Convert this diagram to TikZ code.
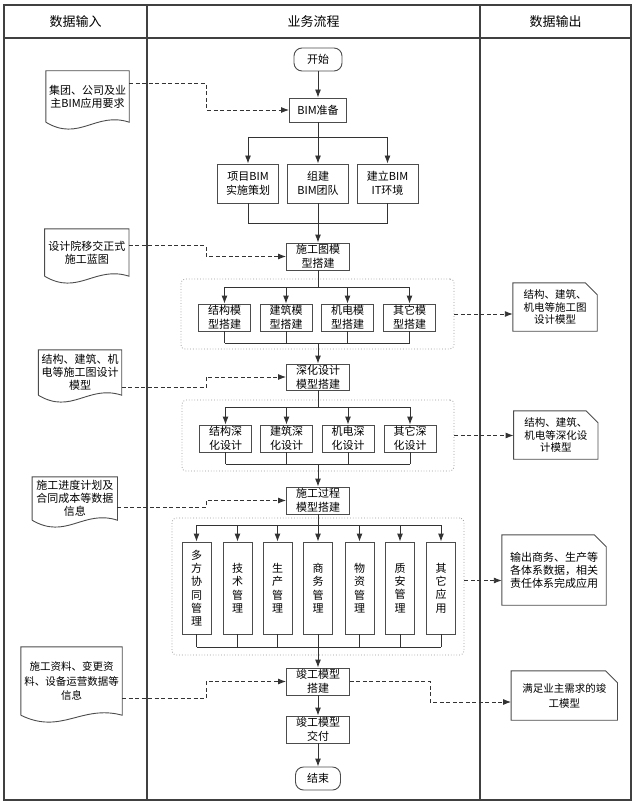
\documentclass[tikz,border=0pt]{standalone}
\usepackage{fontspec}
\setmainfont{Noto Sans CJK SC}
\usetikzlibrary{arrows.meta,calc,positioning}

\tikzset{
  frameline/.style={line width=1.6pt, draw=black!75},
  header/.style={font=\fontsize{13}{15}\selectfont},
  procbox/.style={draw=black!70, line width=0.9pt, fill=white, align=center, inner sep=0pt,
    minimum width=63pt, minimum height=27pt, font=\fontsize{11}{14}\selectfont},
  subbox/.style={procbox, minimum width=52pt},
  tallbox/.style={procbox, minimum width=29pt, minimum height=92pt, font=\fontsize{11}{13.3}\selectfont},
  termbox/.style={procbox, rounded corners=8pt, minimum width=48pt, minimum height=23pt},
  groupbox/.style={draw=black!40, dotted, line width=0.8pt, rounded corners=4pt, inner sep=0pt},
  docnode/.style={align=center, inner sep=0pt, font=\fontsize{11}{13}\selectfont},
  docline/.style={draw=black!70, line width=0.9pt},
  flow/.style={draw=black!80, line width=0.9pt},
  arrow/.style={flow, -{Latex[length=8pt,width=6pt]}},
  datalink/.style={arrow, dash pattern=on 4pt off 2.5pt}
}

% document with a wavy lower edge
\newcommand{\wavedoc}[1]{%
  \draw[docline] (#1.south west) -- (#1.north west) -- (#1.north east) -- (#1.south east)
    .. controls ($(#1.south east)!0.4!(#1.south west)+(0,-11)$) and ($(#1.south west)!0.4!(#1.south east)+(0,20)$) .. (#1.south west);}
% document with a cut corner
\newcommand{\folddoc}[1]{%
  \draw[docline] (#1.south west) -- (#1.north west) -- ($(#1.north east)+(-12,0)$)
    -- ($(#1.north east)+(0,12)$) -- (#1.south east) -- cycle;}

\begin{document}
\begin{tikzpicture}[x=1pt,y=-1pt]
    \useasboundingbox (0,0) rectangle (635,805);
    % frame and lanes
    \draw[frameline] (4,5) rectangle (631,800);
    \draw[frameline] (4,38) -- (631,38);
    \draw[frameline] (147,5) -- (147,800);
    \draw[frameline] (480,5) -- (480,800);
    \node[header] (h_in) at (75.5,21.5) {数据输入};
    \node[header] (h_flow) at (313.5,21.5) {业务流程};
    \node[header] (h_out) at (555.5,21.5) {数据输出};

    % dotted groups
    \node[groupbox, minimum width=273pt, minimum height=70pt] (g_1) at (317.5,314) {};
    \node[groupbox, minimum width=272pt, minimum height=71pt] (g_2) at (318,435.5) {};
    \node[groupbox, minimum width=292pt, minimum height=137pt] (g_3) at (318,586.5) {};

    % main flow
    \node[termbox] (st) at (318,59.5) {开始};
    \node[procbox, minimum width=57pt, minimum height=24pt] (bim) at (318,110) {BIM准备};
    \node[procbox, minimum width=61pt, minimum height=39pt] (p_1) at (248,183.5) {项目BIM\\实施策划};
    \node[procbox, minimum width=61pt, minimum height=39pt] (p_2) at (318,183.5) {组建\\BIM团队};
    \node[procbox, minimum width=61pt, minimum height=39pt] (p_3) at (387.5,183.5) {建立BIM\\IT环境};
    \node[procbox] (sgt) at (318,256.5) {施工图模\\型搭建};
    \node[subbox] (a_1) at (224.5,317.5) {结构模\\型搭建};
    \node[subbox] (a_2) at (286,317.5) {建筑模\\型搭建};
    \node[subbox] (a_3) at (347.5,317.5) {机电模\\型搭建};
    \node[subbox] (a_4) at (409.5,317.5) {其它模\\型搭建};
    \node[procbox, minimum height=26pt] (shx) at (318,377) {深化设计\\模型搭建};
    \node[subbox] (c_1) at (225.5,438.5) {结构深\\化设计};
    \node[subbox] (c_2) at (286.5,438.5) {建筑深\\化设计};
    \node[subbox] (c_3) at (348,438.5) {机电深\\化设计};
    \node[subbox] (c_4) at (410,438.5) {其它深\\化设计};
    \node[procbox] (sgc) at (318,500.5) {施工过程\\模型搭建};
    \node[tallbox] (t_1) at (196.5,588) {多\\方\\协\\同\\管\\理};
    \node[tallbox] (t_2) at (237.5,588) {技\\术\\管\\理};
    \node[tallbox] (t_3) at (277.5,588) {生\\产\\管\\理};
    \node[tallbox] (t_4) at (318,588) {商\\务\\管\\理};
    \node[tallbox] (t_5) at (359.5,588) {物\\资\\管\\理};
    \node[tallbox] (t_6) at (400,588) {质\\安\\管\\理};
    \node[tallbox] (t_7) at (441,588) {其\\它\\应\\用};
    \node[procbox] (jg) at (318,681.5) {竣工模型\\搭建};
    \node[procbox] (jf) at (318,729.5) {竣工模型\\交付};
    \node[termbox, minimum width=45pt] (fin) at (318,778.5) {结束};

    % input documents
    \node[docnode, minimum width=83pt, minimum height=51pt] (d_1) at (87.5,96.5) {集团、公司及业\\主BIM应用要求};
    \node[docnode, minimum width=84pt, minimum height=47pt] (d_2) at (86.75,252.5) {设计院移交正式\\施工蓝图};
    \node[docnode, minimum width=83pt, minimum height=45pt] (d_3) at (80,372.5) {结构、建筑、机\\电等施工图设计\\模型};
    \node[docnode, minimum width=85pt, minimum height=43pt] (d_4) at (74.75,498.5) {施工进度计划及\\合同成本等数据\\信息};
    \node[docnode, minimum width=101pt, minimum height=68pt, font=\fontsize{10.5}{14.5}\selectfont] (d_5) at (71.5,681) {施工资料、变更资\\料、设备运营数据等\\信息};
    \wavedoc{d_1}
    \wavedoc{d_2}
    \wavedoc{d_3}
    \wavedoc{d_4}
    \wavedoc{d_5}

    % output documents
    \node[docnode, minimum width=84pt, minimum height=48pt, font=\fontsize{10.5}{12.5}\selectfont] (r_1) at (555,307) {结构、建筑、\\机电等施工图\\设计模型};
    \node[docnode, minimum width=84pt, minimum height=48pt, font=\fontsize{10.5}{12.5}\selectfont] (r_2) at (555.75,435) {结构、建筑、\\机电等深化设\\计模型};
    \node[docnode, minimum width=104pt, minimum height=70pt, font=\fontsize{11}{13}\selectfont] (r_3) at (554,570) {输出商务、生产等\\各体系数据，相关\\责任体系完成应用};
    \node[docnode, minimum width=106pt, minimum height=49pt, font=\fontsize{10.5}{15}\selectfont] (r_4) at (564.3,695.5) {满足业主需求的竣\\工模型};
    \folddoc{r_1}
    \folddoc{r_2}
    \folddoc{r_3}
    \folddoc{r_4}

    % flow connectors
    \draw[arrow] (st) -- (bim);
    \coordinate (b_0) at (318,137);
    \coordinate (m_0) at (318,223);
    \draw[flow] (bim.south) -- (b_0);
    \draw[flow] (p_1.north |- b_0) -- (p_3.north |- b_0);
    \foreach \n in {p_1,p_2,p_3} \draw[arrow] (\n.north |- b_0) -- (\n.north);
    \draw[flow] (p_1.south) -- (p_1.south |- m_0) -- (p_3.south |- m_0) -- (p_3.south);
    \draw[arrow] (p_2.south) -- (sgt.north);

    \coordinate (b_1) at (318,287);
    \coordinate (m_1) at (318,343);
    \draw[flow] (sgt.south) -- (b_1);
    \draw[flow] (a_1.north |- b_1) -- (a_4.north |- b_1);
    \draw[flow] (a_1.south |- m_1) -- (a_4.south |- m_1);
    \foreach \n in {a_1,a_2,a_3,a_4} {
      \draw[arrow] (\n.north |- b_1) -- (\n.north);
      \draw[flow] (\n.south) -- (\n.south |- m_1);
    }
    \draw[arrow] (m_1) -- (shx.north);

    \coordinate (b_2) at (318,407);
    \coordinate (m_2) at (318,464);
    \draw[flow] (shx.south) -- (b_2);
    \draw[flow] (c_1.north |- b_2) -- (c_4.north |- b_2);
    \draw[flow] (c_1.south |- m_2) -- (c_4.south |- m_2);
    \foreach \n in {c_1,c_2,c_3,c_4} {
      \draw[arrow] (\n.north |- b_2) -- (\n.north);
      \draw[flow] (\n.south) -- (\n.south |- m_2);
    }
    \draw[arrow] (m_2) -- (sgc.north);

    \coordinate (b_3) at (318,525);
    \coordinate (m_3) at (318,647);
    \draw[flow] (sgc.south) -- (b_3);
    \draw[flow] (t_1.north |- b_3) -- (t_7.north |- b_3);
    \draw[flow] (t_1.south |- m_3) -- (t_7.south |- m_3);
    \foreach \n in {t_1,t_2,t_3,t_4,t_5,t_6,t_7} {
      \draw[arrow] (\n.north |- b_3) -- (\n.north);
      \draw[flow] (\n.south) -- (\n.south |- m_3);
    }
    \draw[arrow] (m_3) -- (jg.north);
    \draw[arrow] (jg) -- (jf);
    \draw[arrow] (jf) -- (fin);

    % data links
    \coordinate (lane) at (206,0);
    \draw[datalink] ($(d_1.north east)+(0,13)$) -| (lane |- bim.west) -- (bim.west);
    \draw[datalink] ($(d_2.north east)+(0,17)$) -| (lane |- sgt.west) -- (sgt.west);
    \draw[datalink] ($(d_3.north east)+(0,38)$) -| (lane |- shx.west) -- (shx.west);
    \draw[datalink] ($(d_4.north east)+(0,31)$) -| (lane |- sgc.west) -- (sgc.west);
    \draw[datalink] ($(d_5.north east)+(0,52)$) -| (lane |- jg.west) -- (jg.west);
    \draw[datalink] (g_1.east) -- (g_1.east -| r_1.west);
    \draw[datalink] (g_2.east) -- (g_2.east -| r_2.west);
    \draw[datalink] ([yshift=6pt]g_3.east) -- ([yshift=6pt]g_3.east -| r_3.west);
    \coordinate (r_4in) at ($(r_4.west)+(0,6.5)$);
    \draw[datalink] (jg.east) -| ($(r_4in)+(-81,0)$) -- (r_4in);
\end{tikzpicture}
\end{document}
